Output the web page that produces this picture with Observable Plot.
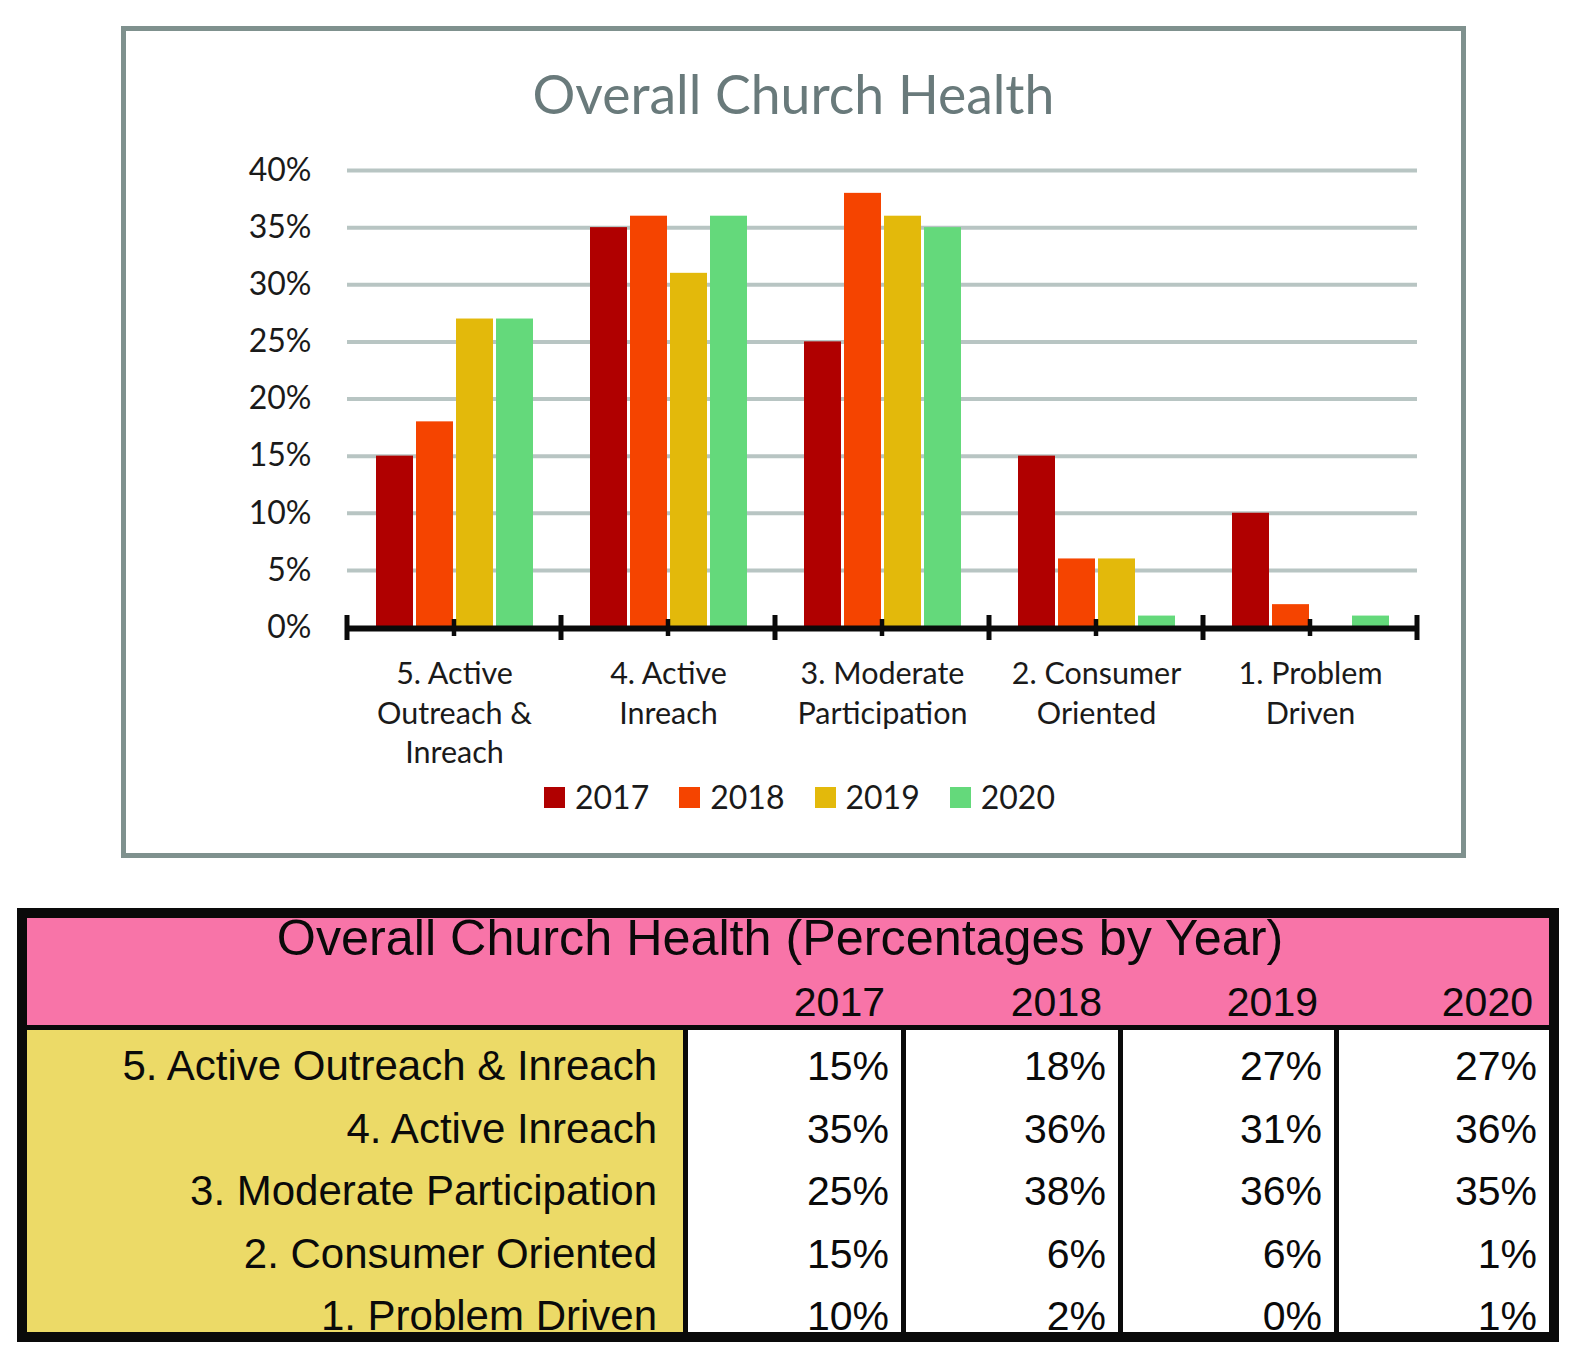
<!DOCTYPE html>
<html><head><meta charset="utf-8">
<script src="https://cdn.jsdelivr.net/npm/d3@7"></script>
<script src="https://cdn.jsdelivr.net/npm/@observablehq/plot@0.6"></script>
<style>
body{margin:0;background:#fff;width:1580px;height:1364px;position:relative;overflow:hidden;font-family:Lato,sans-serif}
.abs{position:absolute}
#chartBox{left:121px;top:26px;width:1345px;height:832px;border:5px solid #7f918e;box-sizing:border-box}
#chartTitle{left:121px;width:1345px;top:63px;height:60px;line-height:60px;text-align:center;font-size:53.5px;color:#697a7b;font-family:Lato,sans-serif;white-space:pre}
#plotHolder{left:126px;top:130px}
#legend{left:544px;top:781px;height:32px;display:flex;align-items:center;font-size:32px;line-height:32px;color:#1a1a1a;font-family:Lato,sans-serif}
#legend .item{display:flex;align-items:center;margin-right:30px}
#legend .sw{width:21px;height:21px;margin-right:10px}
#table{left:17px;top:908px;width:1542px;height:434px;background:#0a0a0a;font-family:"Liberation Sans",Arial,sans-serif;color:#0a0a0a}
#table div{position:absolute;white-space:nowrap}
</style></head><body>
<div id="chartBox" class="abs"></div>
<div id="chartTitle" class="abs">Overall Church Health</div>
<div id="plotHolder" class="abs"></div>
<div id="legend" class="abs"></div>
<div id="table" class="abs"></div>
<script>
const categories = ["5. Active Outreach & Inreach", "4. Active Inreach", "3. Moderate Participation", "2. Consumer Oriented", "1. Problem Driven"];
const axisLabels = ["5. Active\nOutreach &\nInreach", "4. Active\nInreach", "3. Moderate\nParticipation", "2. Consumer\nOriented", "1. Problem\nDriven"];
const years = ["2017", "2018", "2019", "2020"];
const values2017 = [15, 35, 25, 15, 10];
const values2018 = [18, 36, 38, 6, 2];
const values2019 = [27, 31, 36, 6, 0];
const values2020 = [27, 36, 35, 1, 1];
const yTicks = [0, 5, 10, 15, 20, 25, 30, 35, 40];
const colors = ["#b00000", "#f54400", "#e3b90b", "#64d97b"];
const tableTitle = "Overall Church Health (Percentages by Year)";

const seriesValues = [values2017, values2018, values2019, values2020];
const rows = [];
categories.forEach((cat, i) => years.forEach((yr, j) => rows.push({cat, year: yr, value: seriesValues[j][i]})));

const plot = Plot.plot({
  width: 1335, height: 645,
  marginLeft: 220, marginRight: 43, marginTop: 40, marginBottom: 148,
  style: {fontFamily: "Lato, sans-serif", fontSize: "28px", color: "#1a1a1a", background: "transparent", overflow: "visible"},
  fx: {domain: categories, padding: 0, label: null},
  x: {domain: years, paddingInner: 0.08, paddingOuter: 0.7, axis: null},
  y: {domain: [0, 40], label: null},
  color: {domain: years, range: colors},
  marks: [
    Plot.gridY(yTicks.filter(t => t > 0), {stroke: "#b8c5c3", strokeOpacity: 1, strokeWidth: 4}),
    Plot.barY(rows, {fx: "cat", x: "year", y: "value", fill: "year"}),
    Plot.ruleY([0], {stroke: "#0a0a0a", strokeWidth: 6, dy: 1}),
    Plot.axisY(yTicks, {tickFormat: d => d + "%", tickSize: 0, tickPadding: 36, fontSize: 32, label: null}),
    Plot.axisFx({anchor: "bottom", tickSize: 0, tickPadding: 29, fontSize: 30.5, lineHeight: 1.29,
      tickFormat: d => axisLabels[categories.indexOf(d)], label: null})
  ]
});
document.getElementById("plotHolder").appendChild(plot);

// category boundary and centre ticks on the base line, from the fx and y scales
const fxS = plot.scale("fx"), yS = plot.scale("y");
const y0 = yS.apply(0);
const bw = fxS.bandwidth;
const g = d3.select(plot).append("g").attr("stroke", "#0a0a0a");
const edges = categories.map(c => fxS.apply(c)).concat([fxS.apply(categories[categories.length - 1]) + bw]);
edges.forEach(x => g.append("line").attr("x1", x).attr("x2", x).attr("y1", y0 - 12).attr("y2", y0 + 13).attr("stroke-width", 5));
categories.forEach(c => {
  const x = fxS.apply(c) + bw / 2;
  g.append("line").attr("x1", x).attr("x2", x).attr("y1", y0 - 8).attr("y2", y0 + 9).attr("stroke-width", 4.5);
});

// legend
const legend = d3.select("#legend");
years.forEach((yr, j) => {
  const it = legend.append("div").attr("class", "item");
  it.append("div").attr("class", "sw").style("background", colors[j]);
  it.append("span").text(yr);
});

// table (coordinates relative to table box at 17,908)
const T = d3.select("#table");
const ox = 17, oy = 908;
function box(x1, y1, x2, y2, bg) {
  return T.append("div").style("left", (x1 - ox) + "px").style("top", (y1 - oy) + "px")
    .style("width", (x2 - x1) + "px").style("height", (y2 - y1) + "px").style("background", bg);
}
box(27, 918, 1549, 1025, "#f874a8");
box(27, 1030, 683, 1332, "#ecda67");
const colLeft = [688, 906, 1123, 1339];
const colRight = [901, 1118, 1334, 1549];
colLeft.forEach((l, k) => box(l, 1030, colRight[k], 1332, "#ffffff"));
function text(str, cx, cy, size, align, width) {
  const H = 60;
  const d = T.append("div").text(str).style("font-size", size + "px").style("line-height", H + "px")
    .style("height", H + "px").style("top", (cy - H / 2 - oy) + "px");
  if (align === "center") d.style("left", (cx - width / 2 - ox) + "px").style("width", width + "px").style("text-align", "center");
  else d.style("left", (cx - width - ox) + "px").style("width", width + "px").style("text-align", "right");
  return d;
}
text(tableTitle, 780, 938, 50.3, "center", 1400);
years.forEach((yr, k) => text(yr, colRight[k] - 16, 1002, 41, "right", 200));
categories.forEach((cat, i) => {
  const cy = 1066 + 62.5 * i;
  text(cat, 657, cy, 42, "right", 620);
  seriesValues.forEach((vals, k) => text(vals[i] + "%", colRight[k] - 12, cy, 41, "right", 200));
});
</script>
</body></html>
